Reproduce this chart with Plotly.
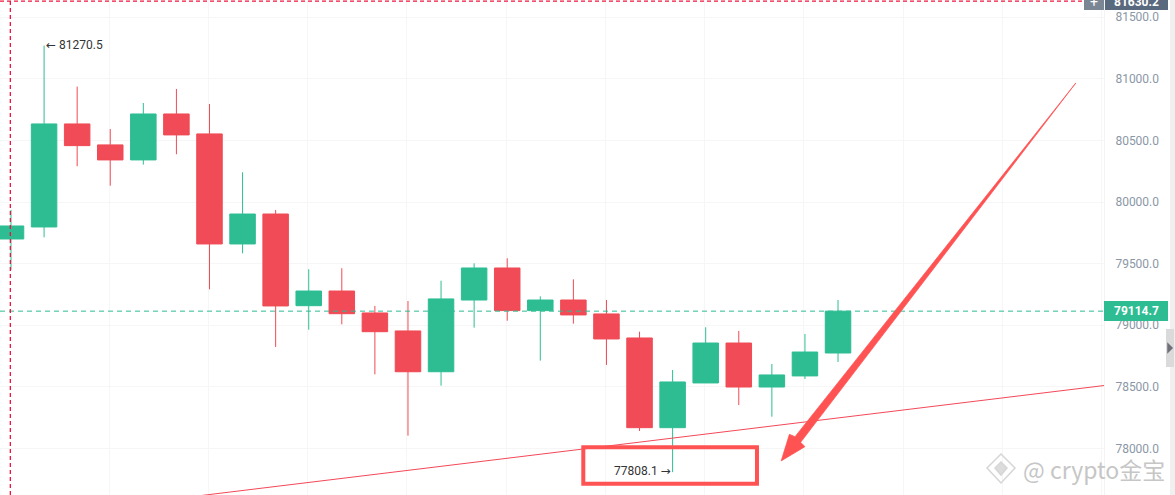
import plotly.graph_objects as go

# candles, oldest first
candle_x = list(range(26))
opens = [79700.5, 79798, 80634, 80464, 80342, 80715, 80553, 79660, 79903, 79159, 79278, 79100, 78954,
         78623, 79205, 79465, 79119, 79205, 79092, 78897, 78169, 78532, 78856, 78499, 78589, 78775]
highs = [79936, 81270.5, 80937, 80593, 80804, 80918, 80796, 80242, 79936, 79455, 79463, 79157, 79197,
         79362, 79503, 79544, 79235, 79373, 79205, 78948, 78637, 78984, 78954, 78686, 78929, 79205]
lows = [79449, 79714, 80291, 80133, 80304, 80388, 79292, 79584, 78824, 78964, 79008, 78602, 78104,
        78510, 78981, 79037, 78713, 79013, 78678, 78142, 77808.1, 78532, 78353, 78258, 78564, 78702]
closes = [79806, 80634, 80458, 80342, 80715, 80545, 79660, 79903, 79157, 79278, 79094, 78948, 78623,
          79214, 79465, 79119, 79205, 79084, 78889, 78169, 78540, 78856, 78499, 78597, 78783, 79114.7]

y_ticks = [78000, 78500, 79000, 79500, 80000, 80500, 81000, 81500]
x_grid = [2.97, 5.97, 8.97, 11.97, 14.97, 17.97, 20.97, 23.97, 26.97, 29.97, 32.97]

last_price = 79114.7
top_price = 81630.2
high_price = 81270.5
low_price = 77808.1

x_range = [-0.3325, 33.04]
y_range = [77622.6, 81640]

# drawn on the chart by hand
trend_x = [5.56, 33.04]
trend_y = [77612, 78511]
arrow_x = [32.19, 23.87, 24.00, 23.28, 23.53, 23.70, 32.19]
arrow_y = [80967, 78050, 78015, 77899, 78115, 78096, 80967]
box_x = [17.30, 22.55]
box_y = [77714, 78010]

GREEN = "#2EBD93"
RED = "#F04B56"
MARK = "#FF5252"
CROSS = "#F0143C"
W, H = 1175, 495


def px(x):
    return x / W


def py(y):
    return 1 - y / H


def pixel_rect(x0, y0, x1, y1, color):
    return dict(type="rect", xref="paper", yref="paper", x0=px(x0), x1=px(x1), y0=py(y0), y1=py(y1),
                fillcolor=color, line_width=0, layer="above")


def pixel_path(points, fill, line):
    d = "M " + " L ".join(f"{px(a):.5f},{py(b):.5f}" for a, b in points) + " Z"
    return dict(type="path", xref="paper", yref="paper", path=d, fillcolor=fill,
                line=dict(color=line, width=1.5), layer="above")


def pixel_text(x, y, text, size, color, family="Roboto", xanchor="center"):
    return dict(x=px(x), y=py(y), xref="paper", yref="paper", text=text, showarrow=False,
                xanchor=xanchor, yanchor="middle", font=dict(family=family, size=size, color=color))


fig = go.Figure()

fig.add_trace(go.Candlestick(
    x=candle_x, open=opens, high=highs, low=lows, close=closes,
    increasing=dict(line=dict(color=GREEN, width=1), fillcolor=GREEN),
    decreasing=dict(line=dict(color=RED, width=1), fillcolor=RED),
    hoverinfo="skip", showlegend=False
))

# last price line
fig.add_trace(go.Scatter(x=x_range, y=[last_price, last_price], mode="lines", hoverinfo="skip",
                         line=dict(color=GREEN, width=1, dash="5px,4px"), showlegend=False))
# trend line
fig.add_trace(go.Scatter(x=trend_x, y=trend_y, mode="lines", hoverinfo="skip",
                         line=dict(color="#F44858", width=1), showlegend=False))
# big arrow
fig.add_trace(go.Scatter(x=arrow_x, y=arrow_y, mode="lines", fill="toself", fillcolor=MARK, hoverinfo="skip",
                         line=dict(color=MARK, width=0.7), showlegend=False))

shapes = [
    # crosshair
    dict(type="line", xref="x", yref="paper", x0=-0.02, x1=-0.02, y0=0, y1=1,
         line=dict(color=CROSS, width=1.3, dash="4px,3px"), layer="above"),
    dict(type="line", xref="paper", yref="y", x0=0, x1=px(1084), y0=top_price, y1=top_price,
         line=dict(color=CROSS, width=1.3, dash="4px,3px"), layer="above"),
    # red box round the low
    dict(type="rect", xref="x", yref="y", x0=box_x[0], x1=box_x[1], y0=box_y[0], y1=box_y[1],
         line=dict(color=MARK, width=4), layer="above"),
    # price tags
    pixel_rect(1084, -2, 1104, 10, "#7B8694"),
    pixel_rect(1105, -2, 1168, 10, "#5A6A7E"),
    pixel_rect(1104, 301, 1168, 321, GREEN),
    # right panel and its handle
    pixel_rect(1170, 0, 1175, 495, "#F0F0F0"),
    pixel_rect(1166, 329, 1174, 367, "#DADADA"),
    pixel_path([(1168, 344), (1172, 348), (1168, 352)], "#70707A", "#70707A"),
    # watermark logo
    pixel_path([(1001, 454), (1015, 468), (1001, 483), (987, 468)], "rgba(0,0,0,0)", "#D6D6D6"),
    pixel_path([(1001, 462), (1007, 468), (1001, 475), (995, 468)], "#DCDCDC", "#D6D6D6"),
]

annotations = [
    dict(x=1, y=high_price, xref="x", yref="y", showarrow=False, xanchor="left", xshift=0, yshift=1,
         text='<span style="font-family:DejaVu Sans">←</span> 81270.5',
         font=dict(family="Roboto", size=12, color="#333333")),
    dict(x=20, y=low_price, xref="x", yref="y", showarrow=False, xanchor="right", xshift=0, yshift=1,
         text='77808.1 <span style="font-family:DejaVu Sans">→</span>',
         font=dict(family="Roboto", size=12, color="#333333")),
    pixel_text(1136.5, 311, "<b>79114.7</b>", 12, "#FFFFFF"),
    pixel_text(1136.5, 2, "<b>81630.2</b>", 12, "#FFFFFF"),
    pixel_text(1094, 2, "+", 14, "#FFFFFF"),
    pixel_text(1167, 469, "@ crypto金宝", 23, "#C6C6C6", family="Noto Sans CJK SC", xanchor="right"),
]

fig.update_layout(
    width=W, height=H,
    margin=dict(l=0, r=0, t=0, b=0),
    paper_bgcolor="white", plot_bgcolor="white",
    boxgap=0.229, boxgroupgap=0,
    shapes=shapes, annotations=annotations,
    xaxis=dict(domain=[0, 1104 / W], range=x_range, rangeslider_visible=False, tickmode="array", tickvals=x_grid,
               showticklabels=False, ticks="", gridcolor="#F6F6F6", gridwidth=1, zeroline=False),
    yaxis=dict(range=y_range, side="right", tickmode="array", tickvals=y_ticks, tickformat=".1f", ticks="outside",
               ticklen=8, tickcolor="rgba(0,0,0,0)", gridcolor="#F6F6F6", gridwidth=1, zeroline=False,
               showline=True, linecolor="#F3F3F3", linewidth=1,
               tickfont=dict(family="Roboto", size=12, color="#8A97A6")),
)

fig.write_html("out.html", config=dict(displayModeBar=False),
               post_script="document.body.style.margin='0';document.body.style.overflow='hidden';")
